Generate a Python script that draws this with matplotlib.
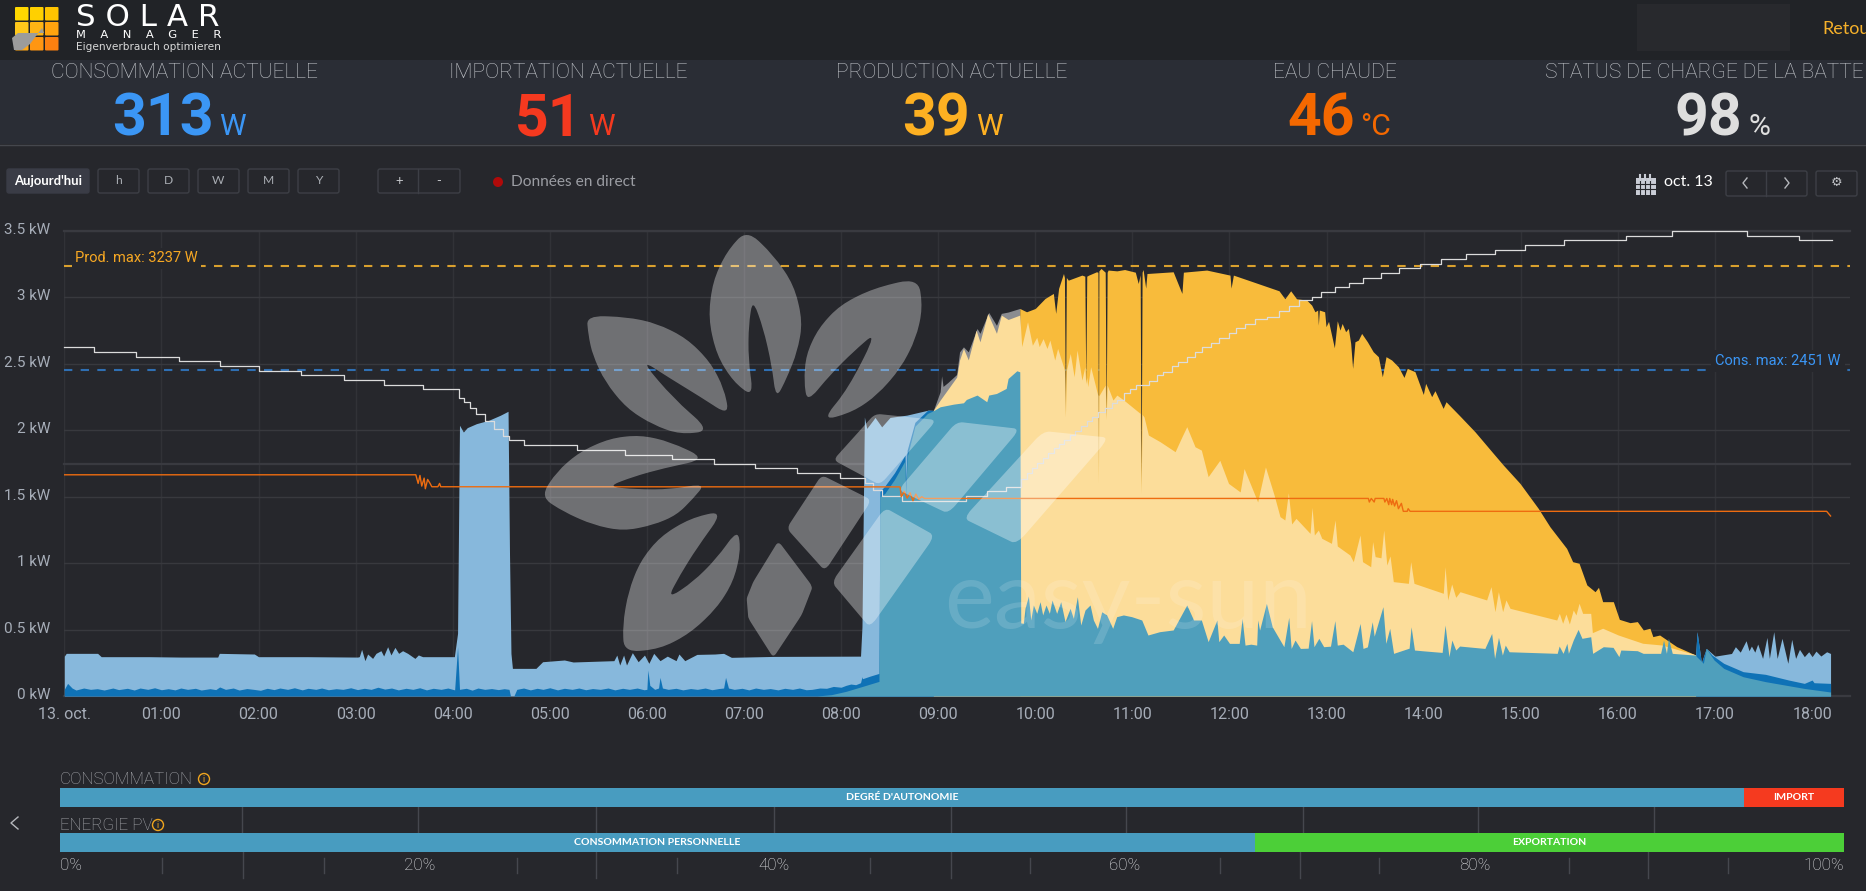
#solar manager dashboard - day view of power flows
from matplotlib import pyplot as plt
from matplotlib.patches import Rectangle, PathPatch, FancyBboxPatch, Circle
from matplotlib.path import Path
from matplotlib.transforms import ScaledTranslation
import numpy as np

W, H = 1866, 891
BG = '#26272c'

# --- chart data, hours since midnight and kW
cons_h = [0, .02, .343, .38, .6, .87, 1.2, 1.58, 1.596, 1.957, 2.0, 2.5, 3.02, 3.038, 3.062, 3.096, 3.124, 3.175, 3.21,
          3.261, 3.289, 3.33, 3.364, 3.405, 3.443, 3.484, 3.536, 3.611, 3.646, 3.69, 4.017, 4.05, 4.07, 4.11, 4.15, 4.245,
          4.37, 4.49, 4.57, 4.585, 4.60, 4.615, 4.857, 4.926, 5.15, 5.24, 5.66, 5.69, 5.72, 5.76, 5.79, 5.85, 5.91, 5.975,
          6.02, 6.07, 6.135, 6.21, 6.30, 6.33, 6.39, 6.515, 6.70, 6.79, 6.87, 7.31, 8.20, 8.215, 8.24, 8.264, 8.33, 8.349,
          8.418, 8.504, 8.676, 8.899, 8.95]
cons_kw = [.30, .321, .321, .296, .296, .296, .293, .293, .321, .316, .296, .296, .293, .296, .351, .266, .316, .283, .321,
           .341, .301, .371, .309, .366, .321, .341, .321, .283, .309, .296, .296, .471, 2.038, 1.987, 2.02, 2.05, 2.075,
           2.113, 2.143, 1.07, .32, .208, .208, .258, .271, .256, .266, .308, .233, .308, .233, .326, .258, .308, .246,
           .321, .266, .30, .266, .316, .266, .313, .316, .321, .291, .298, .30, .521, 2.10, 2.014, 2.077, 2.097, 2.026,
           2.097, 2.114, 2.152, 2.15]
cons_end_h = [16.80, 16.815, 16.86, 16.91, 17.0, 17.17, 17.21, 17.26, 17.32, 17.35, 17.375, 17.41, 17.44, 17.49, 17.535,
              17.56, 17.605, 17.64, 17.69, 17.75, 17.79, 17.83, 17.87, 17.92, 17.965, 18.0, 18.04, 18.09, 18.15, 18.19]
cons_end_kw = [.30, .484, .25, .358, .30, .32, .371, .33, .416, .341, .376, .33, .391, .283, .441, .283, .484, .283,
               .434, .246, .426, .283, .351, .296, .333, .296, .338, .301, .333, .32]

grid_h = [0, .034, .08, .12, .2, .27, .34, .41, .5, .56, .65, .72, .78, .86, .93, 1.0, 1.07, 1.14, 1.2, 1.27, 1.35, 1.41,
          1.5, 1.56, 1.6, 1.66, 1.74, 1.8, 1.88, 1.95, 2.02, 2.09, 2.16, 2.22, 2.3, 2.37, 2.45, 2.51, 2.59, 2.65, 2.72,
          2.8, 2.87, 2.95, 3.02, 3.09, 3.16, 3.23, 3.3, 3.37, 3.44, 3.52, 3.59, 3.66, 3.73, 3.8, 3.88, 3.95, 4.02, 4.05,
          4.07, 4.14, 4.2, 4.26, 4.33, 4.4, 4.47, 4.53, 4.58, 4.595, 4.63, 4.66, 4.73, 4.8, 4.87, 4.93, 5.0, 5.08, 5.15,
          5.23, 5.3, 5.37, 5.44, 5.52, 5.6, 5.67, 5.75, 5.82, 5.9, 5.97, 6.0, 6.01, 6.03, 6.08, 6.12, 6.135, 6.16, 6.22,
          6.3, 6.37, 6.45, 6.52, 6.6, 6.67, 6.74, 6.79, 6.81, 6.84, 6.9, 6.98, 7.05, 7.12, 7.2, 7.27, 7.35, 7.42, 7.5,
          7.57, 7.64, 7.7, 7.78, 7.85, 7.92, 8.0, 8.05, 8.1, 8.15, 8.2, 8.215, 8.22, 8.3, 8.39, 8.40, 8.45, 8.55, 8.658,
          8.665, 8.68, 8.76, 8.89, 8.95]
grid_kw = [.05, .095, .06, .045, .06, .05, .055, .045, .06, .048, .058, .045, .06, .05, .062, .047, .055, .046, .06, .05,
           .058, .045, .055, .048, .068, .05, .06, .045, .056, .05, .043, .058, .048, .06, .05, .062, .046, .058, .05, .06,
           .047, .055, .05, .062, .048, .058, .05, .066, .052, .06, .046, .058, .05, .062, .046, .058, .05, .06, .046,
           .37, .05, .058, .044, .06, .05, .056, .048, .055, .05, 0, 0, .05, .06, .046, .058, .05, .062, .046, .058, .05,
           .06, .047, .056, .05, .06, .046, .058, .05, .06, .047, .05, .195, .08, .05, .06, .14, .06, .05, .058, .046, .056,
           .05, .06, .047, .056, .06, .14, .06, .05, .058, .046, .06, .05, .056, .046, .058, .05, .06, .047, .05, .06, .058,
           .072, .066, .08, .09, .085, .10, .145, .13, .15, .17, 1.54, 1.58, 1.68, 1.813, 1.60, 1.85, 2.06, 2.15, 2.15]
grid_end_h = [16.80, 16.815, 16.86, 16.91, 16.97, 17.09, 17.29, 17.52, 17.76, 17.92, 18.0, 18.02, 18.19]
grid_end_kw = [.30, .484, .25, .358, .308, .246, .183, .163, .12, .095, .12, .10, .095]

gross_h = [8.95, 9.0, 9.02, 9.035, 9.05, 9.1, 9.19, 9.22, 9.26, 9.31, 9.40, 9.43, 9.52, 9.60, 9.65, 9.72, 9.84]
gross_kw = [2.15, 2.25, 2.29, 2.41, 2.33, 2.36, 2.42, 2.59, 2.628, 2.59, 2.766, 2.73, 2.887, 2.79, 2.88, 2.89, 2.917]

prod_h = [9.84, 9.91, 10.0, 10.10, 10.186, 10.21, 10.24, 10.29, 10.30, 10.31, 10.32, 10.34, 10.48, 10.51, 10.52, 10.53,
          10.55, 10.63, 10.645, 10.65, 10.655, 10.677, 10.72, 10.73, 10.74, 10.75, 10.84, 10.92, 11.03, 11.06, 11.08,
          11.09, 11.10, 11.11, 11.137, 11.15, 11.42, 11.51, 11.525, 11.765, 12.005, 12.016, 12.04, 12.2, 12.51, 12.57,
          12.63, 12.69, 12.795, 12.846, 12.88, 12.908, 12.915, 12.925, 12.98, 12.994, 13.02, 13.08, 13.11, 13.138, 13.16,
          13.196, 13.224, 13.248, 13.268, 13.292, 13.327, 13.361, 13.42, 13.48, 13.533, 13.574, 13.612, 13.67, 13.739,
          13.797, 13.831, 13.91, 13.996, 14.02, 14.082, 14.116, 14.2, 14.23, 14.374, 14.528, 14.717, 14.82, 14.992, 15.18,
          15.30, 15.472, 15.534, 15.6, 15.68, 15.765, 15.8, 15.843, 15.953, 16.015, 16.125, 16.2, 16.262, 16.33, 16.36,
          16.43, 16.605, 16.777, 16.80]
prod_kw = [2.917, 2.892, 2.917, 2.992, 3.03, 2.88, 3.068, 3.18, 3.15, 2.10, 3.15, 3.13, 3.168, 3.16, 2.35, 3.16,
           3.168, 3.193, 3.19, 1.60, 3.20, 3.218, 3.19, 2.08, 3.19, 3.206, 3.20, 3.21, 3.19, 3.105, 3.17, 1.525, 3.19,
           3.21, 3.07, 3.18, 3.193, 3.03, 3.19, 3.206, 3.168, 3.07, 3.168, 3.128, 3.05, 2.99, 3.05, 2.99, 2.98, 2.942,
           2.892, 2.905, 2.792, 2.905, 2.892, 2.78, 2.82, 2.621, 2.824, 2.754, 2.804, 2.742, 2.767, 2.654, 2.466, 2.666,
           2.679, 2.729, 2.666, 2.591, 2.554, 2.403, 2.554, 2.529, 2.478, 2.398, 2.466, 2.441, 2.27, 2.353, 2.253, 2.298,
           2.165, 2.215, 2.107, 1.989, 1.826, 1.738, 1.60, 1.412, 1.274, 1.111, 1.011, .999, .836, .785, .818, .71, .71,
           .577, .552, .56, .497, .51, .447, .459, .372, .316, .308]

surplus_h = [8.95, 9.02, 9.19, 9.22, 9.26, 9.31, 9.39, 9.43, 9.51, 9.60, 9.65, 9.72, 9.84, 9.86, 9.92, 9.97, 10.015,
             10.04, 10.08, 10.12, 10.15, 10.2, 10.23, 10.29, 10.30, 10.31, 10.32, 10.36, 10.4, 10.43, 10.48, 10.51,
             10.52, 10.53, 10.54, 10.57, 10.645, 10.65, 10.655, 10.72, 10.73, 10.74, 10.8, 10.84, 10.91, 11.08, 11.09,
             11.10, 11.12, 11.165, 11.285, 11.44, 11.51, 11.56, 11.645, 11.71, 11.78, 11.9, 11.99, 12.11, 12.15, 12.29,
             12.37, 12.46, 12.52, 12.57, 12.606, 12.64, 12.685, 12.83, 12.85, 12.874, 12.915, 12.95, 13.05, 13.087, 13.11,
             13.24, 13.275, 13.344, 13.37, 13.454, 13.474, 13.5, 13.56, 13.588, 13.62, 13.653, 13.687, 13.842, 13.866, 13.9,
             14.202, 14.22, 14.247, 14.288, 14.33, 14.374, 14.648, 14.693, 14.734, 14.769, 14.813, 14.847, 14.889, 15.37,
             15.397, 15.431, 15.465, 15.5, 15.54, 15.568, 15.6, 15.637, 15.72, 15.737, 15.843, 16.004, 16.255, 16.45, 16.777,
             16.80]
surplus_kw = [2.15, 2.227, 2.40, 2.53, 2.616, 2.53, 2.754, 2.666, 2.879, 2.73, 2.867, 2.834, 2.867, 2.63, 2.817, 2.64,
              2.70, 2.63, 2.69, 2.616, 2.679, 2.529, 2.616, 2.478, 2.45, 2.10, 2.45, 2.578, 2.403, 2.604, 2.378, 2.478,
              2.35, 2.40, 2.328, 2.478, 2.26, 1.60, 2.26, 2.34, 2.08, 2.34, 2.228, 2.265, 2.228, 2.127, 1.525, 2.12,
              2.10, 1.964, 1.914, 1.839, 1.951, 2.027, 1.876, 1.851, 1.651, 1.774, 1.60, 1.536, 1.712, 1.461, 1.724,
              1.511, 1.35, 1.325, 1.53, 1.295, 1.337, 1.224, 1.42, 1.212, 1.249, 1.187, 1.149, 1.325, 1.129, 1.061, 1.011,
              1.212, 1.011, .973, 1.162, 1.049, 1.04, 1.249, .986, 1.054, .861, .848, 1.011, .848, .773, .973, .723, .843,
              .743, .785, .723, .823, .635, .785, .635, .723, .66, .572, .622, .547, .617, .542, .647, .61, .698, .622, .622,
              .477, .51, .459, .397, .384, .316, .308]

self_h = [7.75, 7.9, 8.05, 8.21, 8.39, 8.40, 8.45, 8.55, 8.658, 8.665, 8.68, 8.76, 8.89, 8.95, 9.02, 9.16, 9.26, 9.29,
          9.40, 9.50, 9.52, 9.60, 9.70, 9.72, 9.81, 9.84, 9.85, 9.877, 9.894, 9.929, 9.953, 9.98, 10.015, 10.049, 10.076,
          10.11, 10.145, 10.172, 10.22, 10.262, 10.306, 10.358, 10.392, 10.433, 10.468, 10.512, 10.564, 10.598, 10.64,
          10.684, 10.735, 10.797, 10.838, 10.907, 10.993, 11.096, 11.16, 11.28, 11.42, 11.56, 11.63, 11.71,
          11.78, 11.87, 11.89, 11.94, 12.0, 12.10, 12.13, 12.16, 12.22, 12.28, 12.29, 12.31, 12.38, 12.44, 12.52, 12.56,
          12.61, 12.635, 12.675, 12.73, 12.81, 12.845, 12.87, 12.92, 12.97, 13.04, 13.085, 13.11, 13.17, 13.27, 13.345,
          13.375, 13.42, 13.47, 13.49, 13.58, 13.61, 13.65, 13.69, 13.85, 13.87, 13.905, 13.995, 14.19, 14.22, 14.26,
          14.29, 14.33, 14.37, 14.63, 14.70, 14.73, 14.77, 14.81, 14.84, 14.88, 15.375, 15.395, 15.435, 15.475, 15.49,
          15.54, 15.59, 15.63, 15.72, 15.74, 15.85, 15.95, 16.01, 16.03, 16.2, 16.26, 16.44, 16.47, 16.5, 16.52, 16.56,
          16.795, 16.88, 16.91, 16.99, 17.09, 17.29, 17.52, 17.92, 18.19]
self_kw = [0, .01, .035, .07, .11, 1.50, 1.525, 1.63, 1.77, 1.50, 1.80, 2.03, 2.127, 2.147, 2.177, 2.197, 2.207, 2.232,
           2.265, 2.215, 2.265, 2.277, 2.315, 2.39, 2.448, 2.44, .55, .547, .66, .752, .572, .685, .622, .71, .61, .685,
           .622, .722, .622, .71, .56, .66, .584, .747, .534, .647, .685, .572, .509, .634, .61, .509, .597, .61, .597,
           .572, .459, .484, .497, .685, .572, .572, .409, .572, .409,
           .459, .396, .396, .584, .383, .39, .383, .572, .496, .697, .521, .421, .371, .592, .358, .421, .358, .36, .567,
           .371, .434, .371, .375, .567, .383, .39, .333, .546, .358, .37, .559, .45, .672, .396, .509, .321, .36, .521,
           .346, .34, .328, .534, .296, .421, .346, .376, .358, .471, .283, .441, .308, .383, .333, .321, .376, .321,
           .396, .321, .421, .501, .434, .446, .321, .371, .366, .296, .346, .341, .321, .321, .421, .321, .434, .321,
           .308, .246, .358, .271, .208, .145, .108, .057, .03]

soc_h = [0, .307, .736, 1.178, 1.607, 2.006, 2.436, 2.883, 3.294, 3.693, 4.061, 4.12, 4.18, 4.245, 4.337, 4.43, 4.52,
         4.583, 4.736, 5.276, 5.779, 6.258, 6.687, 7.117, 7.546, 7.988, 8.25, 8.325, 8.417, 8.448, 8.632, 9.288, 9.503,
         9.70, 9.85, 9.91, 9.97, 10.02, 10.08, 10.135, 10.19, 10.24, 10.30, 10.36, 10.41, 10.47, 10.53, 10.58, 10.65,
         10.72, 10.79, 10.84, 10.91, 10.98, 11.04, 11.17, 11.25, 11.32, 11.41, 11.47, 11.56, 11.64, 11.72, 11.81, 11.89,
         11.99, 12.07, 12.16, 12.26, 12.39, 12.51, 12.61, 12.72, 12.85, 12.94, 13.09, 13.23, 13.38, 13.56, 13.75, 13.96,
         14.18, 14.44, 14.73, 15.04, 15.44, 16.08, 16.56, 17.33, 17.87, 18.2]
soc_kw = [2.624, 2.589, 2.554, 2.519, 2.484, 2.449, 2.414, 2.376, 2.343, 2.308, 2.24, 2.21, 2.17, 2.12, 2.07, 2.01, 1.96,
          1.925, 1.887, 1.852, 1.817, 1.782, 1.747, 1.714, 1.679, 1.644, 1.60, 1.55, 1.505, 1.505, 1.469, 1.505, 1.54,
          1.574, 1.636, 1.675, 1.713, 1.751, 1.788, 1.826, 1.863, 1.894, 1.926, 1.964, 1.996, 2.032, 2.069, 2.102, 2.134,
          2.165, 2.202, 2.227, 2.277, 2.310, 2.34, 2.373, 2.415, 2.44, 2.483, 2.516, 2.554, 2.591, 2.624, 2.659, 2.691,
          2.729, 2.767, 2.799, 2.834, 2.85, 2.897, 2.935, 2.977, 3.0, 3.04, 3.08, 3.11, 3.15, 3.185, 3.22, 3.253, 3.288,
          3.326, 3.358, 3.396, 3.43, 3.464, 3.50, 3.464, 3.43, 3.43]

water_h = [0, 3.62, 3.644, 3.663, 3.681, 3.706, 3.718, 3.742, 3.767, 3.785, 3.847, 3.865, 3.877, 8.607, 8.62, 8.65, 8.68,
           8.71, 8.74, 8.77, 8.80, 8.83, 8.86, 13.43, 13.44, 13.46, 13.49, 13.50, 13.59, 13.60, 13.62, 13.64, 13.65, 13.67,
           13.68, 13.70, 13.72, 13.74, 13.77, 13.79, 13.83, 13.84, 13.86, 18.15, 18.19]
water_kw = [1.665, 1.665, 1.60, 1.66, 1.58, 1.64, 1.56, 1.63, 1.60, 1.575, 1.575, 1.60, 1.575, 1.574, 1.50, 1.54, 1.49,
            1.53, 1.47, 1.52, 1.48, 1.50, 1.487, 1.487, 1.46, 1.487, 1.46, 1.487, 1.487, 1.46, 1.487, 1.44, 1.487, 1.44,
            1.48, 1.43, 1.47, 1.41, 1.45, 1.39, 1.39, 1.41, 1.39, 1.39, 1.355]

prod_max = 3.237
cons_max = 2.451
y_ticks = [0, .5, 1, 1.5, 2, 2.5, 3, 3.5]
y_labels = ['0 kW', '0.5 kW', '1 kW', '1.5 kW', '2 kW', '2.5 kW', '3 kW', '3.5 kW']
x_ticks = list(range(19))
x_labels = ['13. oct.'] + ['%02d:00' % i for i in range(1, 19)]

# --- header tiles and the two share bars
tile_titles = ['CONSOMMATION ACTUELLE', 'IMPORTATION ACTUELLE', 'PRODUCTION ACTUELLE', 'EAU CHAUDE']
tile_values = ['313', '51', '39', '46', '98']
tile_units = ['W', 'W', 'W', '°C', '%']
tile_colors = ['#3b96f5', '#f5391f', '#fdb022', '#f46800', '#dedede']
share_cons = [94.4, 5.6]
share_pv = [67.0, 33.0]

fig = plt.figure(figsize=(W / 100, H / 100), dpi=100, facecolor=BG)

# background layer, pixel coordinates
bg = fig.add_axes([0, 0, 1, 1], zorder=0)
bg.set_xlim(0, W)
bg.set_ylim(H, 0)
bg.axis('off')

LIGHT = dict(family='Roboto', weight='light')


def put(axis, x, y, s, size, color, ha='center', va='center', **kw):
    return axis.text(x, y, s, fontsize=size * 0.72, color=color, ha=ha, va=va, **kw)


def button(x0, x1, y0, y1, face='none', edge='#3d3f46'):
    bg.add_patch(FancyBboxPatch((x0 + 2, y0 + 2), x1 - x0 - 4, y1 - y0 - 4, boxstyle='round,pad=2', fc=face, ec=edge, lw=1))


bg.add_patch(Rectangle((0, 0), W, 60, fc='#212327', ec='none'))
bg.add_patch(Rectangle((0, 60), W, 84, fc='#2a2d35', ec='none'))
bg.plot([0, W], [144.5, 144.5], color='#45474d', lw=1)
bg.add_patch(Rectangle((1637, 4), 153, 47, fc='#28292d', ec='none'))
put(bg, 1822, 29, 'Retou', 18, '#f5b02a', ha='left', family='Lato')

# logo
panel_colors = [['#ffd800', '#ffd000', '#ffc400'], ['#ffc81a', '#ffb414', '#ffa40e'], ['#ffa81a', '#ff9612', '#fb8010']]
for r in range(3):
    for c in range(3):
        bg.add_patch(FancyBboxPatch((16 + c * 15, 8 + r * 15), 11.5, 11.5, boxstyle='round,pad=1', fc=panel_colors[r][c], ec='none'))
bg.add_patch(PathPatch(Path([(14, 50), (12, 38), (18, 33), (44, 33), (42, 28), (30, 44), (22, 50), (14, 50)]), fc='#9c9c9c', ec='none'))
put(bg, 148, 18, 'S O L A R', 31, 'white', family='DejaVu Sans')
put(bg, 149, 35.5, 'M    A    N    A    G    E    R', 11.5, 'white', family='DejaVu Sans')
put(bg, 148, 47, 'Eigenverbrauch optimieren', 10.5, '#d8d8d8', family='DejaVu Sans')

# tiles
title_x = [184, 568, 952, 1335]
for x, t in zip(title_x, tile_titles):
    put(bg, x, 72, t, 21, '#c2c5ca', **LIGHT)
put(bg, 1545, 72, 'STATUS DE CHARGE DE LA BATTE', 21, '#c2c5ca', ha='left', **LIGHT)
value_x = [214, 583, 970, 1355, 1742]
unit_x = [219, 588, 976, 1360, 1748]
for vx, ux, v, u, col in zip(value_x, unit_x, tile_values, tile_units, tile_colors):
    put(bg, vx, 135, v, 59, col, ha='right', va='baseline', family='Roboto', weight='bold')
    put(bg, ux, 135, u, 30, col, ha='left', va='baseline', family='Roboto')

# toolbar
button(7, 89, 169, 193, face='#3a3c46', edge='#3a3c46')
put(bg, 48, 181, "Aujourd'hui", 13, 'white', family='Lato', weight='bold')
for x0, s in zip([98, 148, 198, 248, 298], ['h', 'D', 'W', 'M', 'Y']):
    button(x0, x0 + 41, 169, 193)
    put(bg, x0 + 20.5, 181, s, 12, '#a9adb3', family='Lato')
button(378, 460, 169, 193)
bg.plot([418, 418], [169, 193], color='#3d3f46', lw=1)
put(bg, 399, 181, '+', 13, '#c4c6ca', family='Lato')
put(bg, 439, 181, '-', 13, '#c4c6ca', family='Lato')
bg.add_patch(Circle((498, 182), 5, fc='#b00a0a', ec='none'))
put(bg, 511, 182, 'Données en direct', 15.5, '#9b9da3', ha='left', family='Lato')

bg.add_patch(Rectangle((1636, 178), 20, 17, fc='#c9cdd6', ec='none'))
for x in [1640, 1645, 1650]:
    bg.plot([x, x], [178, 195], color=BG, lw=0.8)
    bg.plot([x, x], [175, 180], color='#c9cdd6', lw=1.5)
for y in [184, 189]:
    bg.plot([1636, 1656], [y, y], color=BG, lw=0.8)
put(bg, 1664, 182, 'oct. 13', 16, 'white', ha='left', family='Lato')
button(1726, 1807, 171, 196)
bg.plot([1766, 1766], [171, 196], color='#3d3f46', lw=1)
bg.plot([1747, 1743, 1747], [178, 183, 188], color='#b5b7bc', lw=1)
bg.plot([1785, 1789, 1785], [178, 183, 188], color='#b5b7bc', lw=1)
button(1816, 1857, 171, 196)
put(bg, 1837, 182, '⚙', 13, '#c4c6ca', family='DejaVu Sans')

# share bars
for y, s, ic in [(779, 'CONSOMMATION', 204), (825, 'ENERGIE PV', 158)]:
    put(bg, 60, y, s, 17, '#a8aaaf', ha='left', **LIGHT)
    bg.add_patch(Circle((ic, y), 5.5, fc='none', ec='#f0a51e', lw=1))
    put(bg, ic, y, 'i', 9, '#f0a51e', family='Lato')
bg.plot([18, 11, 18], [817, 823, 829], color='#b5b7bc', lw=1)

for x in [242, 418, 596, 774, 951, 1126, 1303, 1478, 1654]:
    bg.plot([x, x], [807, 833], color='#45474e', lw=1)
for x in [243, 596, 951, 1300, 1648]:
    bg.plot([x, x], [852, 878], color='#45474e', lw=1)
for x in [162, 324, 517, 677, 870, 1030, 1220, 1379, 1569, 1728]:
    bg.plot([x, x], [858, 873], color='#45474e', lw=1)
for x, s, ha in [(60, '0%', 'left'), (420, '20%', 'center'), (774, '40%', 'center'), (1125, '60%', 'center'),
                 (1475, '80%', 'center'), (1844, '100%', 'right')]:
    put(bg, x, 865, s, 17, '#e2e3e6', ha=ha, **LIGHT)

bars = fig.add_axes([60 / W, (H - 852) / H, (1844 - 60) / W, (852 - 788) / H], zorder=1)
bars.set_xlim(0, 100)
bars.set_ylim(852, 788)
bars.axis('off')
bars.barh([797.5], share_cons[0], height=19, color='#489cc0')
bars.barh([797.5], share_cons[1], left=share_cons[0], height=19, color='#f53a1f')
bars.barh([842.5], share_pv[0], height=19, color='#489cc0')
bars.barh([842.5], share_pv[1], left=share_pv[0], height=19, color='#4ccf38')
put(bars, 47.2, 797.5, "DEGRÉ D'AUTONOMIE", 10.5, 'white', family='Lato', weight='bold')
put(bars, 97.2, 797.5, 'IMPORT', 10.5, 'white', family='Lato', weight='bold')
put(bars, 33.5, 842.5, 'CONSOMMATION PERSONNELLE', 10.5, 'white', family='Lato', weight='bold')
put(bars, 83.5, 842.5, 'EXPORTATION', 10.5, 'white', family='Lato', weight='bold')

# main chart
PX_PER_H = 97.1
x_max = (1850 - 64.3) / PX_PER_H
ax = fig.add_axes([64.3 / W, (H - 696) / H, (1850 - 64.3) / W, (696 - 231) / H], zorder=2)
ax.patch.set_alpha(0)
ax.set_xlim(0, x_max)
ax.set_ylim(0, 3.5)
for s in ax.spines.values():
    s.set_visible(False)
ax.set_xticks(x_ticks, x_labels)
ax.set_yticks(y_ticks, y_labels)
ax.tick_params(length=0)
ax.tick_params(axis='x', pad=8, colors='#a6adb8', labelsize=11.5)
ax.tick_params(axis='y', pad=10, colors='#a6adb8', labelsize=11)
for lab in ax.get_xticklabels() + ax.get_yticklabels():
    lab.set_family('Roboto')
for lab in ax.get_yticklabels():
    lab.set_transform(lab.get_transform() + ScaledTranslation(0, 2.5 / 100, fig.dpi_scale_trans))
ax.grid(axis='x', color='#313237', lw=1)
ax.grid(axis='y', color='#38393e', lw=1)
ax.set_axisbelow(True)
for y in [0, 1.75, 3.5]:
    ax.axhline(y, color='#393a40', lw=1.6, zorder=1, clip_on=False)

dash = (0, (4, 4))
ax.axhline(prod_max, color='#d9a02e', lw=1.5, ls=dash, zorder=1.5)
ax.axhline(cons_max, color='#2f6fb3', lw=1.5, ls=dash, zorder=1.5)

ax.fill_between(cons_h, cons_kw, color='#87b8dc', lw=0, zorder=2)
ax.fill_between(cons_end_h, cons_end_kw, color='#87b8dc', lw=0, zorder=2)
ax.fill_between(grid_h, grid_kw, color='#0f72b6', lw=0, zorder=2.1)
ax.fill_between(grid_end_h, grid_end_kw, color='#0f72b6', lw=0, zorder=2.1)
ax.fill_between(gross_h, gross_kw, color='#8b8c90', lw=0, zorder=2.2)
ax.fill_between(prod_h, prod_kw, color='#f8bb3b', lw=0, zorder=2.3)
ax.fill_between(surplus_h, surplus_kw, color='#fcdd9a', lw=0, zorder=2.4)
ax.fill_between(self_h, self_kw, color='#4f9fbc', lw=0, zorder=2.5)

ax.plot(soc_h, soc_kw, color='#dcdcdc', lw=0.9, drawstyle='steps-post', zorder=3, clip_on=False)
ax.plot(water_h, water_kw, color='#ee6c10', lw=1.0, zorder=3.1)

ax.annotate('Prod. max: %d W' % round(prod_max * 1000), xy=(75, H - 258), xycoords='figure pixels', ha='left', va='center',
            color='#f7a823', fontsize=10.5, family='Roboto', zorder=4, bbox=dict(fc=BG, ec='none', pad=2.5))
ax.annotate('Cons. max: %d W' % round(cons_max * 1000), xy=(1715, H - 361), xycoords='figure pixels', ha='left', va='center',
            color='#3b96f5', fontsize=10.5, family='Roboto', zorder=4, bbox=dict(fc=BG, ec='none', pad=3.2))

# watermark over everything
mark = fig.add_axes([0, 0, 1, 1], zorder=3)
mark.set_xlim(0, W)
mark.set_ylim(H, 0)
mark.axis('off')


def blob(points, f=0.4):
    # closed outline with rounded corners, points as read in the 3x crop
    pts = np.array(points, dtype=float) / 3 + [520, 225]
    n = len(pts)
    verts, codes = [], []
    for i in range(n):
        p0, p1, p2 = pts[i - 1], pts[i], pts[(i + 1) % n]
        a = p1 + (p0 - p1) * f
        b = p1 + (p2 - p1) * f
        verts += [a, p1, b]
        codes += [Path.LINETO, Path.CURVE3, Path.CURVE3]
    codes[0] = Path.MOVETO
    verts.append(verts[0])
    codes.append(Path.CLOSEPOLY)
    return Path(verts, codes)


leaves = [
    [(680, 14), (760, 90), (822, 180), (848, 290), (832, 380), (800, 460), (768, 522), (755, 420), (730, 310), (698, 222),
     (686, 300), (685, 400), (700, 516), (640, 470), (590, 390), (565, 280), (578, 170), (620, 80)],
    [(1195, 158), (1208, 250), (1188, 340), (1142, 430), (1072, 510), (1000, 560), (905, 588), (985, 490), (1072, 318),
     (1000, 380), (930, 450), (862, 532), (852, 470), (858, 390), (895, 310), (960, 240), (1060, 190)],
    [(200, 272), (205, 330), (218, 390), (255, 470), (320, 550), (400, 600), (480, 628), (572, 618), (460, 520), (360, 402),
     (450, 460), (540, 515), (628, 572), (612, 490), (570, 410), (500, 340), (410, 295), (320, 276)],
    [(62, 815), (110, 740), (180, 680), (270, 640), (360, 630), (450, 650), (560, 702), (430, 730), (340, 755), (262, 785),
     (350, 793), (450, 793), (556, 776), (520, 820), (470, 870), (400, 900), (310, 918), (220, 900), (130, 860)],
    [(612, 856), (510, 880), (420, 935), (360, 1010), (325, 1100), (308, 1200), (312, 1282), (420, 1272), (510, 1225),
     (590, 1150), (640, 1070), (662, 980), (654, 912), (590, 1000), (520, 1070), (442, 1122), (480, 1050), (530, 970)],
]
diamonds = [
    [(775, 948), (878, 1085), (845, 1170), (760, 1298), (685, 1180), (680, 1120), (700, 1070)],
    [(905, 750), (1055, 825), (915, 1038), (800, 910)],
    [(1065, 566), (1250, 585), (1080, 780), (940, 705)],
    [(1310, 590), (1500, 612), (1285, 866), (1135, 795)],
    [(1570, 618), (1768, 638), (1490, 958), (1330, 880)],
    [(1095, 848), (1245, 932), (1050, 1208), (935, 1072)],
]
for shape in leaves:
    mark.add_patch(PathPatch(blob(shape, 0.45), fc='white', ec='none', alpha=0.34))
for shape in diamonds:
    mark.add_patch(PathPatch(blob(shape, 0.1), fc='white', ec='none', alpha=0.34))
mark.text(944, 628, 'easy-sun', fontsize=68, color='white', alpha=0.14, ha='left', va='baseline', family='Lato')

plt.savefig('out.png', dpi=100, facecolor=BG)
